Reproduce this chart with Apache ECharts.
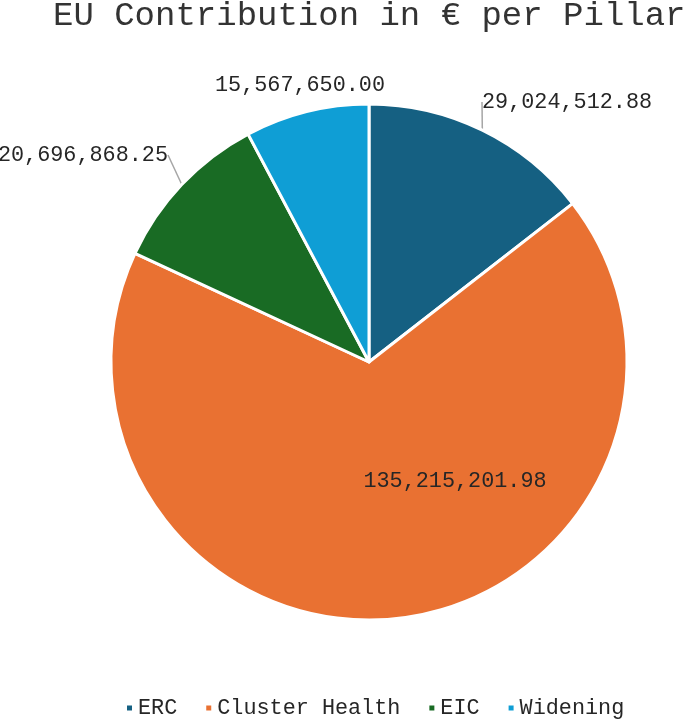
<!DOCTYPE html>
<html>
<head>
<meta charset="utf-8">
<script src="https://cdn.jsdelivr.net/npm/echarts@6/dist/echarts.min.js"></script>
<style>
  html, body { margin: 0; padding: 0; background: #fff; }
  #chart { width: 685px; height: 719px; }
</style>
</head>
<body>
<div id="chart"></div>
<script>
// data
const pillars = ['ERC', 'Cluster Health', 'EIC', 'Widening']
const contributions = [29024512.88, 135215201.98, 20696868.25, 15567650.00]
const colors = ['#156082', '#E97132', '#196B24', '#0F9ED5']

const FONT = '"Liberation Mono", "Courier New", monospace'

// where each label sits (Excel best-fit placement)
const labelSpots = [
  { x: 482, y: 102, align: 'left' },
  { x: 455, y: 481, align: 'center' },
  { x: 168, y: 155, align: 'right' },
  { x: 300, y: 85, align: 'center' }
]

const fmt = v => v.toLocaleString('en-US', { minimumFractionDigits: 2, maximumFractionDigits: 2 })

const chart = echarts.init(document.getElementById('chart'))

const data = pillars.map((name, i) => {
  const item = { name: name, value: contributions[i], itemStyle: { color: colors[i] } }
  if (name === 'Cluster Health') {
    item.label = { position: 'inside' }
    item.labelLine = { show: false }
  }
  if (name === 'Widening') {
    item.labelLine = { show: false }
  }
  return item
})

chart.setOption({
  animation: false,
  title: {
    text: 'EU Contribution in € per Pillar',
    left: 48,
    top: -6,
    textStyle: { fontFamily: FONT, fontSize: 34, fontWeight: 'normal', color: '#333333' }
  },
  legend: {
    bottom: -5,
    left: 120,
    itemWidth: 7,
    itemHeight: 7,
    itemGap: 27,
    icon: 'rect',
    textStyle: { fontFamily: FONT, fontSize: 21.8, color: '#262626' },
    data: pillars
  },
  series: [{
    type: 'pie',
    center: [369, 362],
    radius: 258,
    startAngle: 90,
    clockwise: true,
    data: data,
    itemStyle: { borderColor: '#fff', borderWidth: 3 },
    label: {
      show: true,
      position: 'outside',
      overflow: 'none',
      formatter: p => fmt(p.value),
      fontFamily: FONT,
      fontSize: 21.8,
      color: '#262626'
    },
    labelLine: {
      show: true,
      length: 12,
      length2: 0,
      lineStyle: { color: '#a6a6a6', width: 1.5 }
    },
    labelLayout: params => {
      const s = labelSpots[params.dataIndex]
      return { x: s.x, y: s.y, align: s.align, verticalAlign: 'middle' }
    }
  }]
})
</script>
</body>
</html>
